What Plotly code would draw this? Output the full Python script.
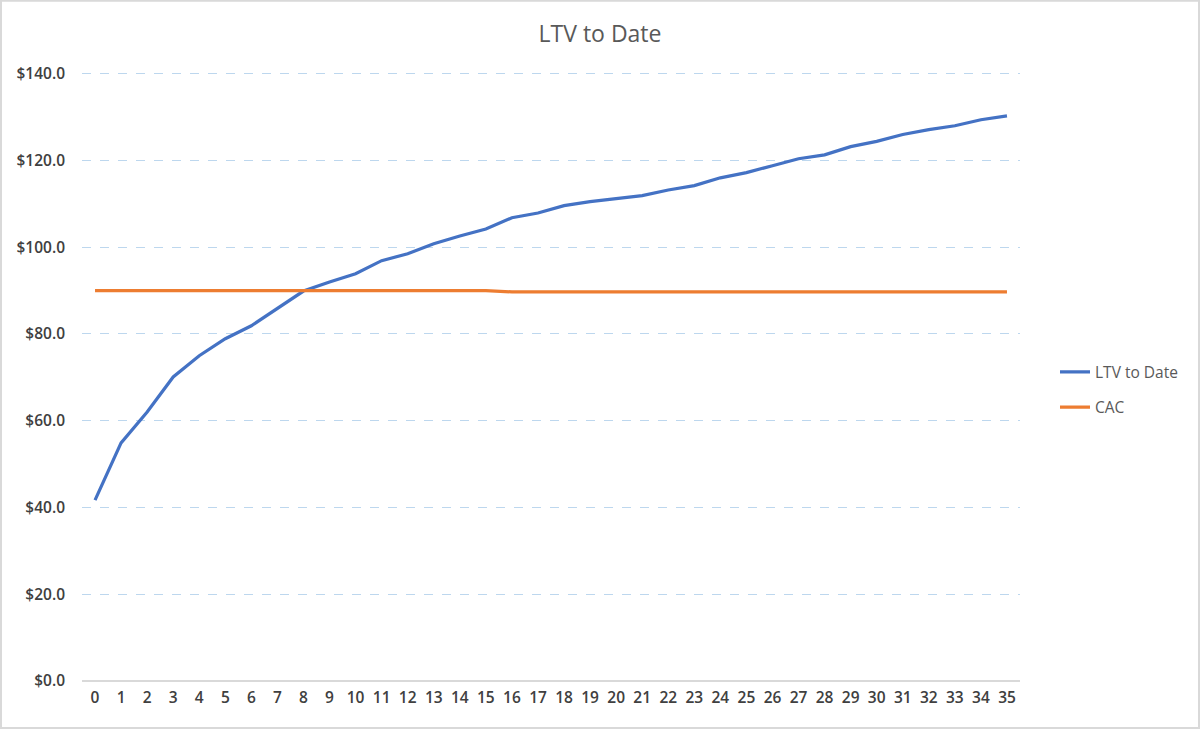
import plotly.graph_objects as go

months = list(range(36))
ltv_to_date = [41.7, 54.9, 62.0, 70.1, 75.0, 78.9, 81.9, 85.8, 89.9, 92.0,
               93.9, 96.9, 98.5, 100.8, 102.6, 104.2, 106.8, 107.9, 109.6, 110.5,
               111.2, 111.9, 113.2, 114.2, 116.0, 117.2, 118.8, 120.4, 121.3, 123.2,
               124.4, 126.0, 127.1, 128.0, 129.4, 130.3]
cac = [90.0] * 16 + [89.7] * 20
y_ticks = [0, 20, 40, 60, 80, 100, 120, 140]
y_tick_labels = ["$0.0", "$20.0", "$40.0", "$60.0", "$80.0", "$100.0", "$120.0", "$140.0"]

W, H = 1200, 729
L, R, B = 82, 180, 48
ppu = 607 / 140.0
ymax = 140.4
T = 74 - (ymax - 140) * ppu
pw, ph = W - L - R, H - T - B

fig = go.Figure()
fig.add_trace(go.Scatter(x=[str(m) for m in months], y=ltv_to_date, mode="lines",
                         name="LTV to Date", legendgroup="a",
                         line=dict(color="#4472C4", width=3.2)))
fig.add_trace(go.Scatter(x=[str(m) for m in months], y=cac, mode="lines",
                         name="CAC", legendgroup="b",
                         line=dict(color="#ED7D31", width=3.2)))

fig.update_layout(
    width=W, height=H,
    margin=dict(l=L, r=R, t=T, b=B),
    paper_bgcolor="white", plot_bgcolor="white",
    title=dict(text="LTV to Date", x=600 / W, xanchor="center", y=1 - 34 / H, yanchor="middle",
               font=dict(family="Open Sans, sans-serif", size=23, color="#595959")),
    font=dict(family="Open Sans, sans-serif", color="#595959"),
    legend=dict(x=(1055 - L) / pw, xanchor="left", y=(681 - 390) / ph, yanchor="middle",
                font=dict(size=15.5, color="#595959"), tracegroupgap=12,
                bgcolor="rgba(0,0,0,0)"),
    showlegend=True,
)
tf = dict(size=15.5, color="#404040", family="Open Sans SemiBold, Open Sans, sans-serif")
fig.update_xaxes(type="category", range=[-0.5, 35.5], showgrid=False, showline=False,
                 ticks="", tickfont=tf, ticklabelstandoff=5)
fig.update_yaxes(range=[0, ymax], tickvals=y_ticks, ticktext=y_tick_labels,
                 showgrid=True, gridcolor="#BDD7EE", griddash="dash", gridwidth=1,
                 zeroline=True, zerolinecolor="#D9D9D9", zerolinewidth=1.5,
                 showline=False, ticks="", tickfont=tf, ticklabelstandoff=16)

# outer chart border
fig.add_shape(type="rect", xref="paper", yref="paper",
              x0=(1 - L) / pw, x1=(W - 1 - L) / pw,
              y0=-(B - 1) / ph, y1=1 + (T - 1) / ph,
              line=dict(color="#D9D9D9", width=2), fillcolor="rgba(0,0,0,0)", layer="below")

fig.write_html("out.html")
